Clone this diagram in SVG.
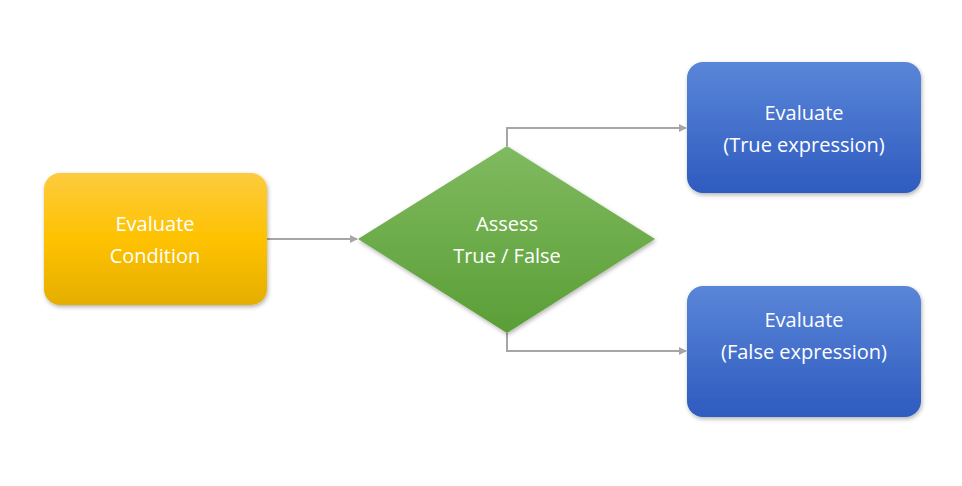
<svg xmlns="http://www.w3.org/2000/svg" width="962" height="486" viewBox="0 0 962 486">
<style>
.t{font-family:"Open Sans","Liberation Sans",sans-serif;font-size:20px;fill:#fff;text-anchor:middle}
.c{fill:none;stroke:#a6a6a6;stroke-width:2}
</style>
<defs>
<linearGradient id="gy" x1="0" y1="0" x2="0" y2="1"><stop offset="0" stop-color="#fdcb3e"/><stop offset="0.5" stop-color="#fec200"/><stop offset="1" stop-color="#e5ae00"/></linearGradient>
<linearGradient id="gg" x1="0" y1="0" x2="0" y2="1"><stop offset="0" stop-color="#80ba60"/><stop offset="1" stop-color="#5a9e36"/></linearGradient>
<linearGradient id="gb" x1="0" y1="0" x2="0" y2="1"><stop offset="0" stop-color="#5a86d8"/><stop offset="1" stop-color="#2e5bbf"/></linearGradient>
<filter id="sh" x="-10%" y="-10%" width="130%" height="130%"><feDropShadow dx="1" dy="2" stdDeviation="2" flood-color="#000" flood-opacity="0.3"/></filter>
<marker id="ar" markerWidth="8" markerHeight="8" refX="7" refY="4" orient="auto" markerUnits="userSpaceOnUse"><path d="M0,0 L8,4 L0,8 z" fill="#a6a6a6"/></marker>
</defs>
<rect width="962" height="486" fill="#fff"/>
<g id="connectors">
<path class="c" d="M267,239 H357" marker-end="url(#ar)"/>
<path class="c" d="M507,146 V128 H686" marker-end="url(#ar)"/>
<path class="c" d="M507,333 V351 H686" marker-end="url(#ar)"/>
</g>
<g id="cond"><rect x="44" y="173" width="223" height="132" rx="16" fill="url(#gy)" filter="url(#sh)"/>
<text class="t" x="155" y="231">Evaluate</text><text class="t" x="155" y="263">Condition</text></g>
<g id="assess"><polygon points="358,239 507,146 655,239 507,333" fill="url(#gg)" filter="url(#sh)"/>
<text class="t" x="507" y="231">Assess</text><text class="t" x="507" y="263">True / False</text></g>
<g id="true"><rect x="687" y="62" width="234" height="131" rx="16" fill="url(#gb)" filter="url(#sh)"/>
<text class="t" x="804" y="120">Evaluate</text><text class="t" x="804" y="152">(True expression)</text></g>
<g id="false"><rect x="687" y="286" width="234" height="131" rx="16" fill="url(#gb)" filter="url(#sh)"/>
<text class="t" x="804" y="327">Evaluate</text><text class="t" x="804" y="359">(False expression)</text></g>
</svg>
